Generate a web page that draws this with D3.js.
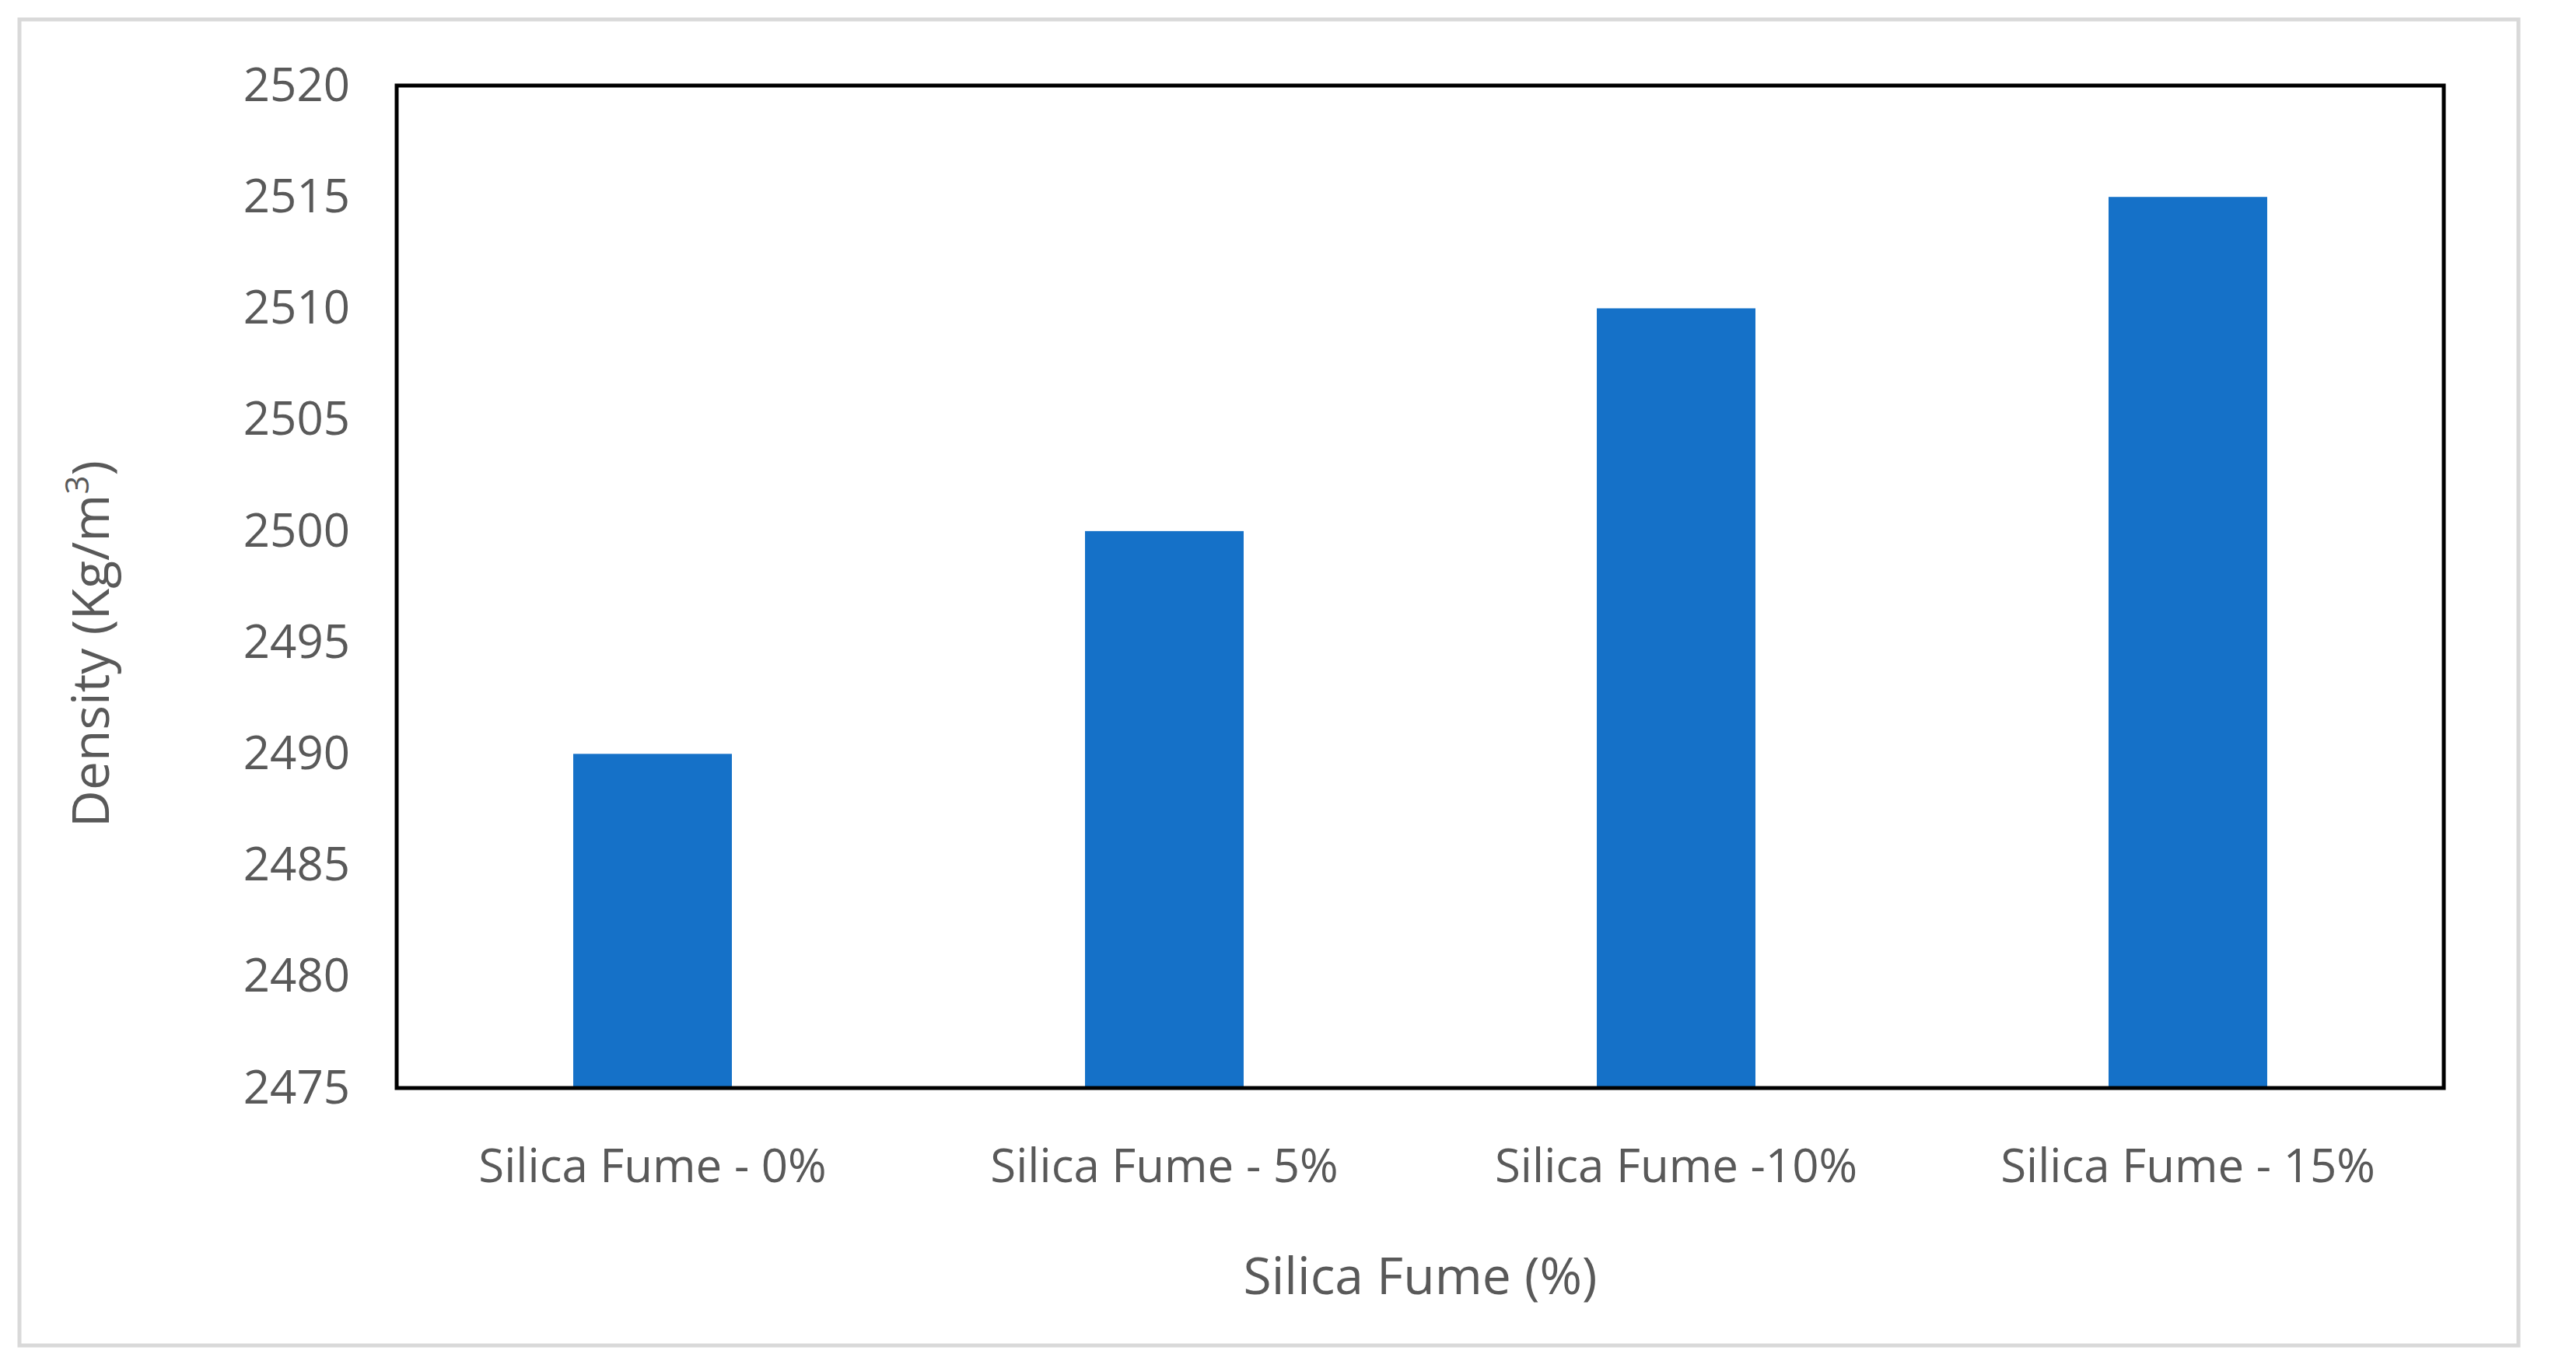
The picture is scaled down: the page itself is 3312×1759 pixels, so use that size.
<!DOCTYPE html>
<html><head><meta charset="utf-8">
<script src="https://cdn.jsdelivr.net/npm/d3@7"></script>
<style>html,body{margin:0;background:#fff;}</style>
</head><body>
<script>
const categories = ["Silica Fume - 0%", "Silica Fume - 5%", "Silica Fume -10%", "Silica Fume - 15%"];
const densities = [2490, 2500, 2510, 2515];
const yTicks = [2475, 2480, 2485, 2490, 2495, 2500, 2505, 2510, 2515, 2520];

const W = 3312, H = 1759;
const m = {l: 510, r: 3142, t: 110, b: 1399};
const svg = d3.select("body").append("svg").attr("width", W).attr("height", H);
const font = "'Open Sans', sans-serif", tc = "#595959";

svg.append("rect").attr("x", 25).attr("y", 25).attr("width", 3213).attr("height", 1705)
  .attr("fill", "#fff").attr("stroke", "#d9d9d9").attr("stroke-width", 5);

const x = d3.scaleBand().domain(categories).range([m.l, m.r]).paddingInner(0.69).paddingOuter(0.345);
const y = d3.scaleLinear().domain([2475, 2520]).range([m.b, m.t]);

svg.selectAll("rect.bar").data(densities).join("rect").attr("class", "bar")
  .attr("x", (d, i) => x(categories[i])).attr("width", x.bandwidth())
  .attr("y", d => y(d)).attr("height", d => y(2475) - y(d)).attr("fill", "#1571C8");

svg.append("rect").attr("x", m.l).attr("y", m.t).attr("width", m.r - m.l).attr("height", m.b - m.t)
  .attr("fill", "none").attr("stroke", "#000").attr("stroke-width", 5);

const ya = svg.append("g").attr("transform", `translate(${m.l - 60},0)`)
  .call(d3.axisLeft(y).tickValues(yTicks).tickSize(0).tickPadding(0).tickFormat(d3.format("d")));
ya.select(".domain").remove();
ya.selectAll("text").attr("font-family", font).attr("font-size", 60).attr("fill", tc);

const xa = svg.append("g").attr("transform", `translate(0,${m.b})`)
  .call(d3.axisBottom(x).tickSize(0).tickPadding(78));
xa.select(".domain").remove();
xa.selectAll("text").attr("font-family", font).attr("font-size", 60).attr("fill", tc);

svg.append("text").attr("x", (m.l + m.r) / 2).attr("y", 1664).attr("text-anchor", "middle")
  .attr("font-family", font).attr("font-size", 66).attr("fill", tc).text("Silica Fume (%)");

const yt = svg.append("text").attr("transform", "translate(140,828) rotate(-90)").attr("text-anchor", "middle")
  .attr("font-family", font).attr("font-size", 66).attr("fill", tc);
yt.append("tspan").text("Density (Kg/m");
yt.append("tspan").attr("font-size", 42).attr("dy", -26).text("3");
yt.append("tspan").attr("dy", 26).text(")");
</script>
</body></html>
